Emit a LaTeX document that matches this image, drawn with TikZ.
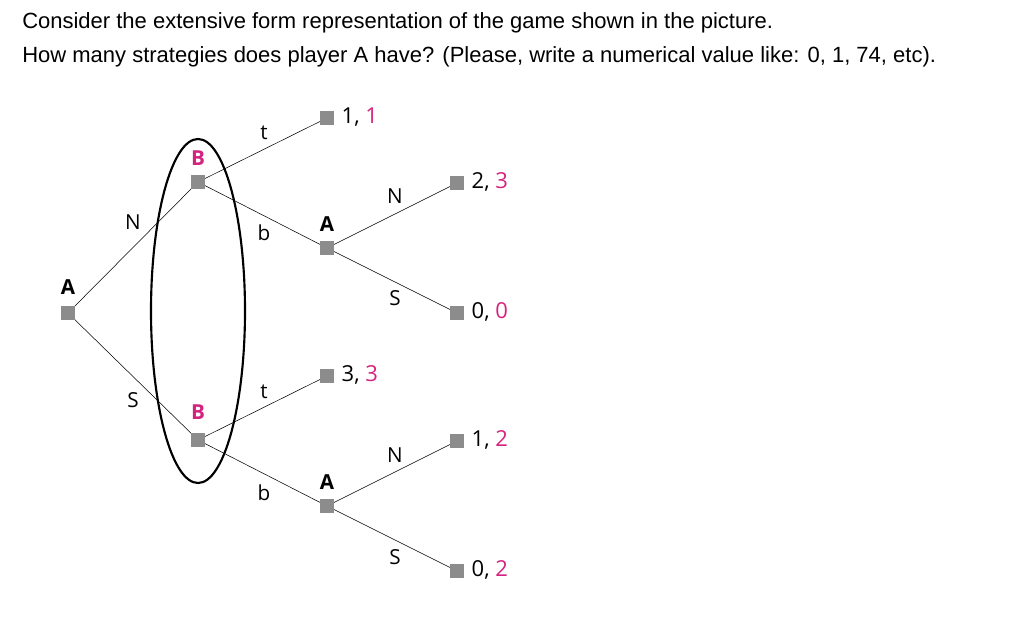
\documentclass[tikz,border=0pt]{standalone}
\usepackage{fontspec}
\setmainfont{Liberation Sans}
\newfontfamily\diag{Open Sans}
\definecolor{mag}{HTML}{D4237F}
\begin{document}
\begin{tikzpicture}[x=0.75pt,y=-0.75pt,
  sq/.style={fill=gray!90,minimum size=10.5pt,inner sep=0pt},
  lab/.style={font=\diag\fontsize{15.5}{17}\selectfont},
  pl/.style={font=\diag\bfseries\fontsize{15.5}{17}\selectfont},
  pay/.style={font=\diag\fontsize{16.5}{18}\selectfont,anchor=west}]
\useasboundingbox (0,0) rectangle (1024,620);
\node[anchor=west,font=\fontsize{16.5}{19}\selectfont,inner sep=0pt] (q1) at (22,23) {Consider the extensive form representation of the game shown in the picture.};
\node[anchor=west,font=\fontsize{16.5}{19}\selectfont,inner sep=0pt] (q2) at (22,57) {How many strategies does player A have? (Please, write a numerical value like: 0, 1, 74, etc).};
\node[sq] (a0) at (68,313) {};
\node[sq] (b1) at (198,182) {};
\node[sq] (b2) at (198,440) {};
\node[sq] (a1) at (327,248) {};
\node[sq] (a2) at (327,506) {};
\node[sq] (t1) at (327,118) {};
\node[sq] (t2) at (457,183) {};
\node[sq] (t3) at (457,313) {};
\node[sq] (t4) at (327,376) {};
\node[sq] (t5) at (457,441) {};
\node[sq] (t6) at (457,571) {};
\foreach \u/\v in {a0/b1,a0/b2,b1/t1,b1/a1,a1/t2,a1/t3,b2/t4,b2/a2,a2/t5,a2/t6}
  \draw (\u.center) -- (\v.center);
\foreach \u in {a0,b1,b2,a1,a2,t1,t2,t3,t4,t5,t6}
  \node[sq] at (\u) {};
\node[pl] (la0) at (68,287) {A};
\node[pl,text=mag] (lb1) at (198,158) {B};
\node[pl,text=mag] (lb2) at (198,412) {B};
\node[pl] (la1) at (327,224) {A};
\node[pl] (la2) at (327,482) {A};
\node[lab] (e1) at (133,222) {N};
\node[lab] (e2) at (133,400) {S};
\node[lab] (e3) at (264,133) {t};
\node[lab] (e4) at (264,233) {b};
\node[lab] (e5) at (395,196) {N};
\node[lab] (e6) at (395,298) {S};
\node[lab] (e7) at (264,392) {t};
\node[lab] (e8) at (264,493) {b};
\node[lab] (e9) at (395,455) {N};
\node[lab] (e10) at (395,557) {S};
\node[pay] (p1) at (337,117) {1, \textcolor{mag}{1}};
\node[pay] (p2) at (467,182) {2, \textcolor{mag}{3}};
\node[pay] (p3) at (467,312) {0, \textcolor{mag}{0}};
\node[pay] (p4) at (337,375) {3, \textcolor{mag}{3}};
\node[pay] (p5) at (467,440) {1, \textcolor{mag}{2}};
\node[pay] (p6) at (467,570) {0, \textcolor{mag}{2}};
\draw[line width=1.6pt] (198,311) ellipse [x radius=47, y radius=172];
\end{tikzpicture}
\end{document}
